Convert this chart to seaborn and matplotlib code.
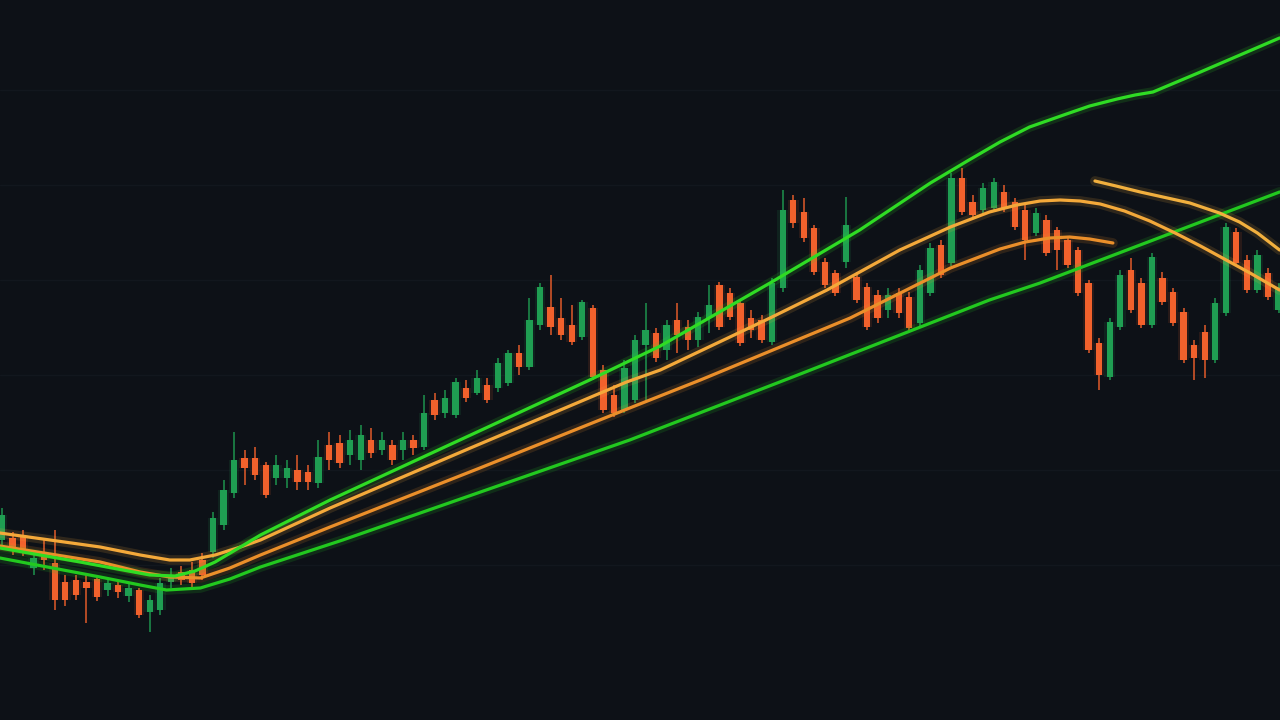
import numpy as np
import pandas as pd
import matplotlib
matplotlib.use("Agg")
import matplotlib.pyplot as plt
import seaborn as sns

# ---------------- candle data (one candle per period) ----------------
opens = [180, 182, 185, 152, 168, 157, 138, 140, 138, 141, 130, 135, 124, 130, 108, 110, 138, 148, 150, 160,
         168, 195, 227, 262, 262, 255, 242, 242, 250, 248, 237, 275, 277, 265, 260, 280, 270, 275, 270, 280,
         273, 320, 307, 305, 332, 327, 335, 332, 337, 367, 353, 395, 413, 402, 395, 383, 412, 350, 325, 310,
         320, 375, 387, 370, 400, 393, 380, 402, 435, 427, 417, 402, 400, 378, 432, 520, 508, 492, 458, 447,
         458, 443, 433, 425, 410, 427, 423, 397, 427, 475, 457, 542, 518, 510, 512, 528, 518, 510, 487, 500,
         490, 480, 470, 437, 377, 343, 393, 450, 437, 395, 442, 428, 408, 375, 388, 360, 407, 488, 460, 430,
         447, 410]
highs = [212, 188, 190, 170, 180, 190, 145, 145, 145, 145, 142, 140, 138, 132, 125, 142, 152, 154, 158, 167,
         208, 240, 288, 270, 273, 258, 265, 260, 265, 255, 280, 288, 285, 290, 295, 292, 288, 280, 288, 285,
         325, 327, 330, 342, 340, 350, 342, 362, 370, 375, 422, 437, 445, 422, 415, 420, 415, 355, 335, 360,
         385, 417, 392, 400, 417, 400, 408, 435, 438, 432, 420, 410, 405, 442, 530, 525, 522, 495, 462, 450,
         523, 448, 437, 430, 432, 432, 428, 455, 477, 480, 547, 552, 525, 537, 542, 535, 522, 515, 512, 505,
         493, 484, 473, 440, 382, 402, 450, 462, 442, 467, 448, 432, 412, 380, 395, 422, 497, 492, 465, 470,
         452, 437]
lows = [172, 165, 164, 145, 150, 110, 114, 120, 97, 119, 124, 122, 118, 102, 88, 105, 132, 135, 132, 140,
        162, 190, 222, 235, 240, 222, 235, 232, 230, 230, 232, 250, 252, 255, 250, 262, 265, 255, 260, 265,
        270, 300, 302, 302, 318, 325, 317, 328, 334, 345, 350, 390, 385, 380, 375, 380, 340, 307, 303, 307,
        317, 320, 358, 360, 367, 370, 373, 387, 390, 400, 374, 382, 377, 375, 428, 492, 478, 445, 432, 424,
        452, 417, 390, 397, 402, 402, 390, 394, 424, 442, 454, 505, 502, 507, 508, 508, 490, 460, 484, 464,
        450, 452, 424, 367, 330, 340, 390, 407, 392, 392, 415, 394, 357, 340, 342, 357, 404, 454, 427, 427,
        420, 407]
closes = [205, 172, 170, 162, 160, 120, 120, 125, 132, 123, 137, 128, 132, 105, 120, 137, 145, 140, 137, 145,
          202, 230, 260, 252, 245, 225, 255, 252, 238, 238, 263, 260, 257, 280, 285, 267, 280, 260, 280, 272,
          307, 305, 322, 338, 322, 342, 320, 357, 367, 353, 400, 433, 393, 385, 378, 418, 343, 310, 307, 352,
          380, 390, 362, 395, 385, 380, 403, 415, 393, 403, 377, 390, 380, 437, 510, 497, 482, 448, 435, 427,
          495, 420, 393, 402, 425, 407, 392, 450, 472, 445, 542, 508, 505, 532, 538, 512, 493, 480, 507, 467,
          470, 455, 427, 370, 345, 398, 445, 410, 395, 463, 418, 397, 360, 362, 360, 417, 493, 457, 430, 465,
          423, 433]

# ---------------- moving-average style lines (period, value) ----------------
ma_fast_t = [-0.2, 7.4, 14.0, 16.4, 18.3, 20.2, 22.6, 24.5, 31.1, 43.4, 55.7, 62.4, 72.8, 81.3, 88.0, 91.5,
             94.6, 97.4, 100.9, 103.1, 105.7, 107.4, 109.1, 113.6, 121.1]
ma_fast_v = [172, 158, 145, 144, 149, 158, 173, 185, 220, 280, 340, 374, 437, 490, 537, 559,
             578, 593, 606, 614, 621, 625, 628, 648, 682]

ma_mid_t = [-0.2, 9.3, 13.1, 15.9, 17.8, 20.2, 22.6, 24.5, 31.1, 44.4, 59.2, 62.4, 72.8, 78.2, 85.1, 89.9,
            93.6, 96.2, 98.4, 100.3, 102.2, 104.1, 106.4, 108.8, 111.2, 113.6, 118.3, 121.1]
ma_mid_v = [187, 173, 165, 160, 160, 165, 173, 180, 212, 272, 338, 350, 402, 430, 470, 493,
            508, 515, 519, 520, 519, 516, 509, 499, 487, 474, 447, 430]

ma_short_t = [-0.2, 9.3, 13.1, 15.9, 18.8, 21.6, 24.5, 31.1, 45.3, 59.5, 66.2, 80.4, 89.9, 94.6, 97.0, 99.3,
              101.2, 103.1, 105.3]
ma_short_v = [174, 158, 148, 143, 142, 152, 165, 193, 252, 312, 340, 402, 452, 471, 478, 482,
              483, 481, 477]

ma_slow_t = [-0.2, 9.3, 13.1, 15.6, 18.8, 21.6, 24.5, 32.3, 59.5, 74.7, 93.6, 98.4, 121.1]
ma_slow_v = [162, 143, 135, 130, 132, 141, 153, 180, 280, 342, 420, 437, 528]

ma_new_t = [103.6, 105.6, 107.9, 112.6, 115.4, 117.3, 119.0, 121.1]
ma_new_v = [539, 534, 528, 517, 507, 498, 487, 470]

grid_levels = [155, 250, 345, 440, 535, 630]

# ---------------- styling ----------------
BG = "#0d1117"
UP = "#1f9e52"
DOWN = "#f2612c"

sns.set_theme(style="darkgrid", rc={
    "axes.facecolor": BG,
    "figure.facecolor": BG,
    "grid.color": "#12171e",
    "grid.linewidth": 1.0,
    "axes.edgecolor": BG,
})

fig = plt.figure(figsize=(12.8, 7.2), dpi=100)
ax = fig.add_axes([0, 0, 1, 1])

df = pd.DataFrame({"o": opens, "h": highs, "l": lows, "c": closes})
df["t"] = np.arange(len(df))
df["up"] = df["c"] >= df["o"]
colors = np.where(df["up"], UP, DOWN)
body_h = (df["c"] - df["o"]).abs().clip(lower=2)
body_b = df[["o", "c"]].min(axis=1)

# glow for candles
ax.bar(df["t"], body_h, bottom=body_b, width=1.0, color=colors, alpha=0.12, linewidth=0, zorder=1)
# wicks
ax.vlines(df["t"], df["l"], df["h"], colors=colors, linewidth=1.2, alpha=0.85, zorder=2)
# bodies
ax.bar(df["t"], body_h, bottom=body_b, width=0.6, color=colors, linewidth=0, zorder=3)

lines = [
    (ma_slow_t, ma_slow_v, "#22c91f"),
    (ma_short_t, ma_short_v, "#eb8f2a"),
    (ma_mid_t, ma_mid_v, "#f4a93a"),
    (ma_fast_t, ma_fast_v, "#2fdc24"),
    (ma_new_t, ma_new_v, "#f2b03e"),
]
for t, v, col in lines:
    d = pd.DataFrame({"t": t, "v": v})
    sns.lineplot(data=d, x="t", y="v", ax=ax, color=col, linewidth=7, alpha=0.15,
                 zorder=4, solid_capstyle="round", solid_joinstyle="round", sort=False)
    sns.lineplot(data=d, x="t", y="v", ax=ax, color=col, linewidth=2.3,
                 zorder=5, solid_capstyle="round", solid_joinstyle="round", sort=False)

ax.set_xlim(-0.19, 121.14)
ax.set_ylim(0, 720)
ax.set_yticks(grid_levels)
ax.set_xticks([])
ax.grid(axis="x", visible=False)
ax.tick_params(left=False, bottom=False, labelleft=False, labelbottom=False)
ax.set_xlabel("")
ax.set_ylabel("")
for s in ax.spines.values():
    s.set_visible(False)

fig.savefig("out.png", dpi=100, facecolor=BG)
